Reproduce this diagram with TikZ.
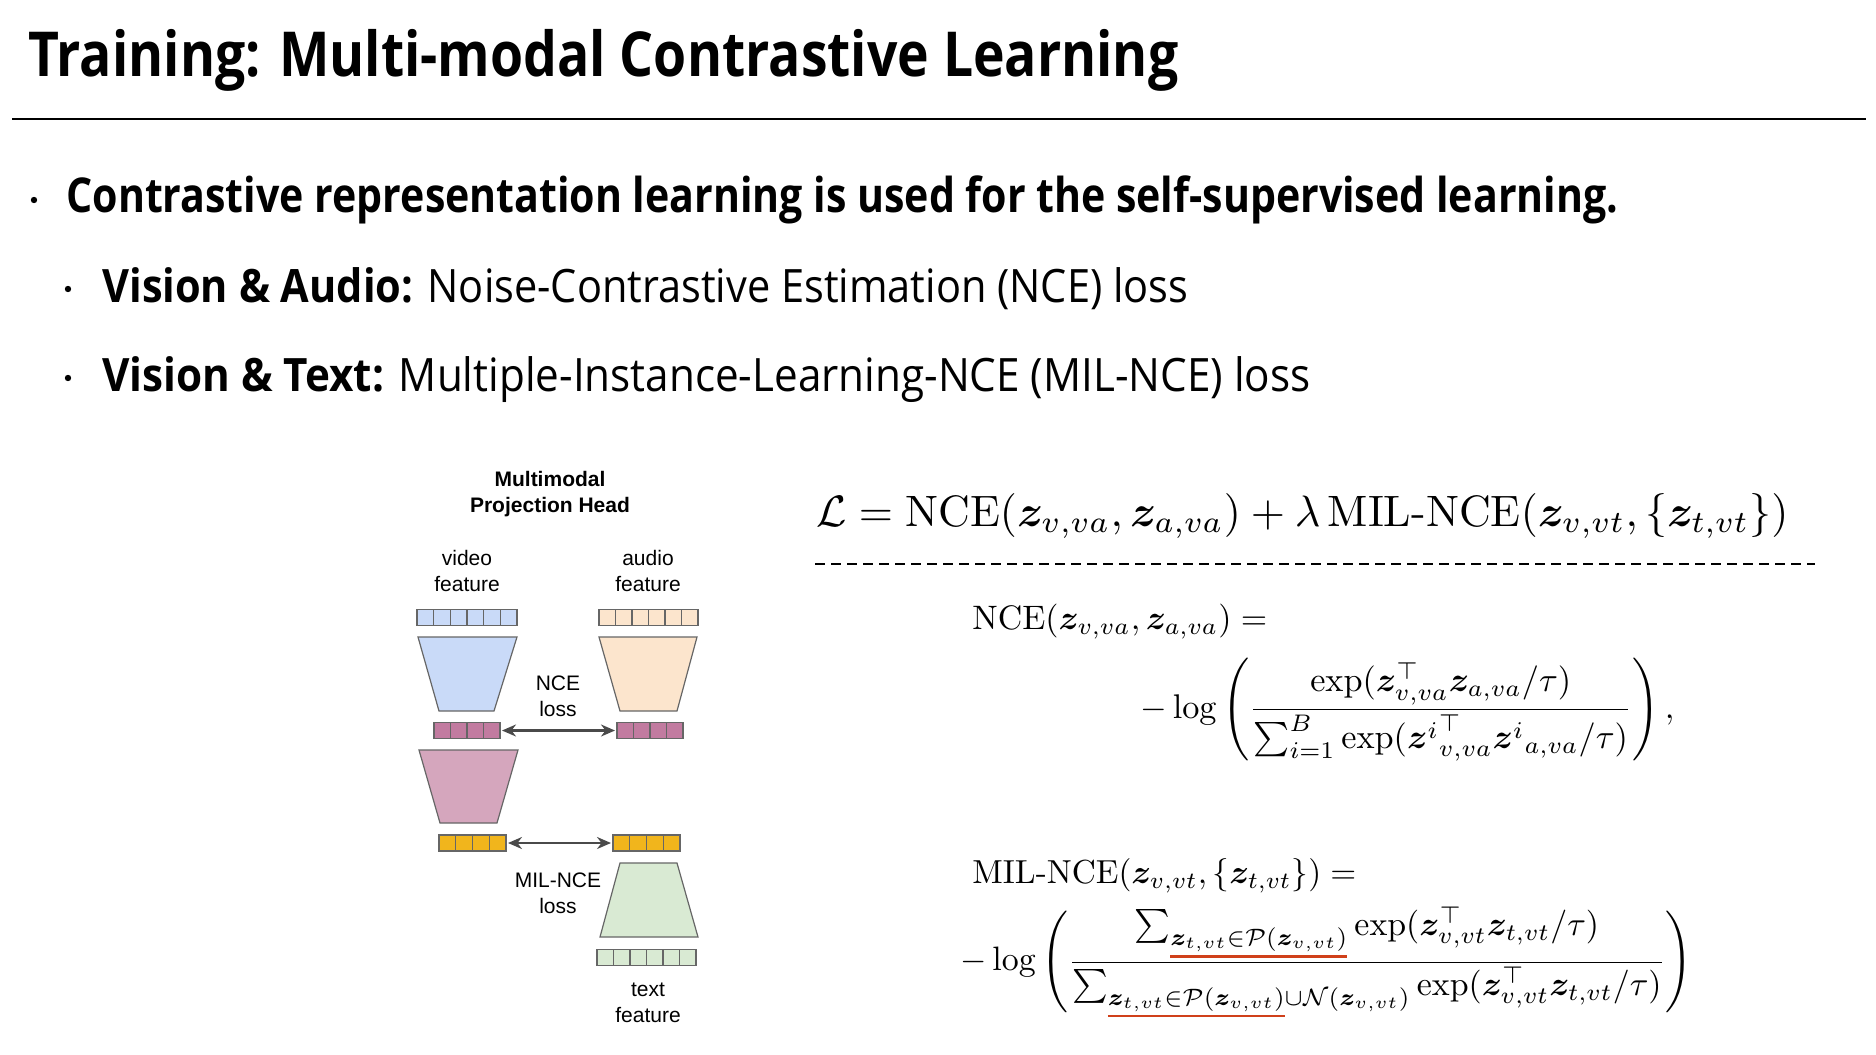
\documentclass[tikz,border=0pt]{standalone}
\usepackage{fontspec}
\usepackage{amsmath,bm}
\usetikzlibrary{calc,arrows.meta}
\newfontfamily\slidefont{Open Sans}
\newfontfamily\figfont{Liberation Sans}
\definecolor{vblue}{HTML}{C9DAF8}
\definecolor{apeach}{HTML}{FCE5CD}
\definecolor{pbar}{HTML}{C27BA0}
\definecolor{ptrap}{HTML}{D5A6BD}
\definecolor{ybar}{HTML}{F1B51C}
\definecolor{gfill}{HTML}{D9EAD3}
\definecolor{edgegray}{HTML}{666666}
\definecolor{arrgray}{HTML}{4A4A4A}
\definecolor{redul}{HTML}{D0401A}
\newcommand\fw[2]{\resizebox{#1}{\height}{#2}}
\newcommand\fe[2]{\resizebox{#1}{!}{#2}}
\newcommand\rul[1]{\setbox0\hbox{$\scriptstyle #1$}\vtop{\offinterlineskip\copy0\kern0.9pt\hbox{\color{redul}\rule{\wd0}{0.7pt}}}}
\newcommand\mkbar[7]{%
  \node[barbox,fill=#7,minimum width=#4*0.5pt] (#1) at (#2,#3) {};
  \foreach \i in {1,...,#6}{\draw[edgegray,line width=0.6pt] ($(#1.south west)!\i/#5!(#1.south east)$) -- ($(#1.north west)!\i/#5!(#1.north east)$);}
}
\tikzset{
  barbox/.style={draw=edgegray,line width=0.6pt,minimum height=8pt,inner sep=0pt,outer sep=0pt},
  trap/.style={draw=edgegray,line width=0.6pt},
  lbl/.style={font=\figfont\fontsize{10.5}{13}\selectfont,align=center,inner sep=0pt},
  dbl/.style={arrgray,line width=1.1pt,{Stealth[length=7pt,width=6pt]}-{Stealth[length=7pt,width=6pt]}},
}
\begin{document}
\begin{tikzpicture}[x=0.5pt,y=-0.5pt]
\useasboundingbox (0,0) rectangle (1876,1055);
% title
\node[anchor=base west,inner sep=0pt] (title) at (28,76) {\fw{575pt}{\slidefont\bfseries\fontsize{31}{36}\selectfont Training: Multi-modal Contrastive Learning}};
\draw[line width=1pt] (12,119) -- (1866,119);
% bullets
\node[anchor=base west,inner sep=0pt] (b1) at (66,212) {\fw{776pt}{\slidefont\bfseries\fontsize{24}{28}\selectfont Contrastive representation learning is used for the self-supervised learning.}};
\fill (34,200) circle (3.2);
\node[anchor=base west,inner sep=0pt] (b2) at (102,302) {\fw{543pt}{\slidefont\fontsize{23}{28}\selectfont\textbf{Vision \& Audio:} Noise-Contrastive Estimation (NCE) loss}};
\fill (68,289) circle (3.2);
\node[anchor=base west,inner sep=0pt] (b3) at (102,391) {\fw{604pt}{\slidefont\fontsize{23}{28}\selectfont\textbf{Vision \& Text:} Multiple-Instance-Learning-NCE (MIL-NCE) loss}};
\fill (68,378) circle (3.2);
% diagram labels
\node[lbl,font=\figfont\bfseries\fontsize{10.5}{13}\selectfont] (headlbl) at (550,494) {Multimodal\\Projection Head};
\node[lbl] (vlbl) at (467,571) {video\\feature};
\node[lbl] (albl) at (648,571) {audio\\feature};
\node[lbl] (ncelbl) at (558,696) {NCE\\loss};
\node[lbl] (millbl) at (558,893) {MIL-NCE\\loss};
\node[lbl] (tlbl) at (648,1003) {text\\feature};
% trapezoids
\draw[trap,fill=vblue] (418,637) -- (517,637) -- (494,711) -- (439,711) -- cycle;
\draw[trap,fill=apeach] (599,637) -- (697,637) -- (677,711) -- (620,711) -- cycle;
\draw[trap,fill=ptrap] (419,750) -- (518,750) -- (497,823) -- (440,823) -- cycle;
\draw[trap,fill=gfill] (620,863) -- (677,863) -- (698,937) -- (600,937) -- cycle;
% bars
\mkbar{vb}{467}{617.5}{100}{6}{5}{vblue}
\mkbar{ab}{648.5}{617.5}{99}{6}{5}{apeach}
\mkbar{pv}{467}{730.5}{66}{4}{3}{pbar}
\mkbar{pa}{650}{730.5}{66}{4}{3}{pbar}
\mkbar{yv}{472.5}{843}{67}{4}{3}{ybar}
\mkbar{ya}{646.5}{843}{67}{4}{3}{ybar}
\mkbar{tb}{646.5}{957.5}{99}{6}{5}{gfill}
\draw[dbl] ([xshift=1pt]pv.east) -- ([xshift=-1pt]pa.west);
\draw[dbl] ([xshift=1pt]yv.east) -- ([xshift=-1pt]ya.west);
% equations
\node[anchor=west,inner sep=0pt] (eqL) at (816,516) {\fe{486pt}{$\mathcal{L} = \mathrm{NCE}(\bm z_{v,va},\bm z_{a,va}) + \lambda\,\mathrm{MIL\text{-}NCE}(\bm z_{v,vt},\{\bm z_{t,vt}\})$}};
\draw[line width=1pt,dash pattern=on 5pt off 3pt] (815,564) -- (1815,564);
\node[anchor=west,inner sep=0pt] (eqN1) at (972,622) {\fe{147.5pt}{$\mathrm{NCE}(\bm z_{v,va},\bm z_{a,va}) =$}};
\node[anchor=west,inner sep=0pt] (eqN2) at (1140,710) {\fe{267pt}{$\displaystyle -\log\left(\frac{\exp(\bm z_{v,va}^{\top}\bm z_{a,va}/\tau)}{\sum_{i=1}^{B}\exp({\bm z^{i}}^{\top}_{v,va}{\bm z^{i}}_{a,va}/\tau)}\right),$}};
\node[anchor=west,inner sep=0pt] (eqM1) at (972,876) {\fe{192pt}{$\mathrm{MIL\text{-}NCE}(\bm z_{v,vt},\{\bm z_{t,vt}\}) =$}};
\node[anchor=west,inner sep=0pt] (eqM2) at (960,962) {\fe{366pt}{$\displaystyle -\log\left(\frac{\sum\nolimits_{\rul{\bm z_{t,vt}\in\mathcal{P}(\bm z_{v,vt})}}\exp(\bm z_{v,vt}^{\top}\bm z_{t,vt}/\tau)}{\sum\nolimits_{\rul{\bm z_{t,vt}\in\mathcal{P}(\bm z_{v,vt})}\cup\mathcal{N}(\bm z_{v,vt})}\exp(\bm z_{v,vt}^{\top}\bm z_{t,vt}/\tau)}\right)$}};
\end{tikzpicture}
\end{document}
